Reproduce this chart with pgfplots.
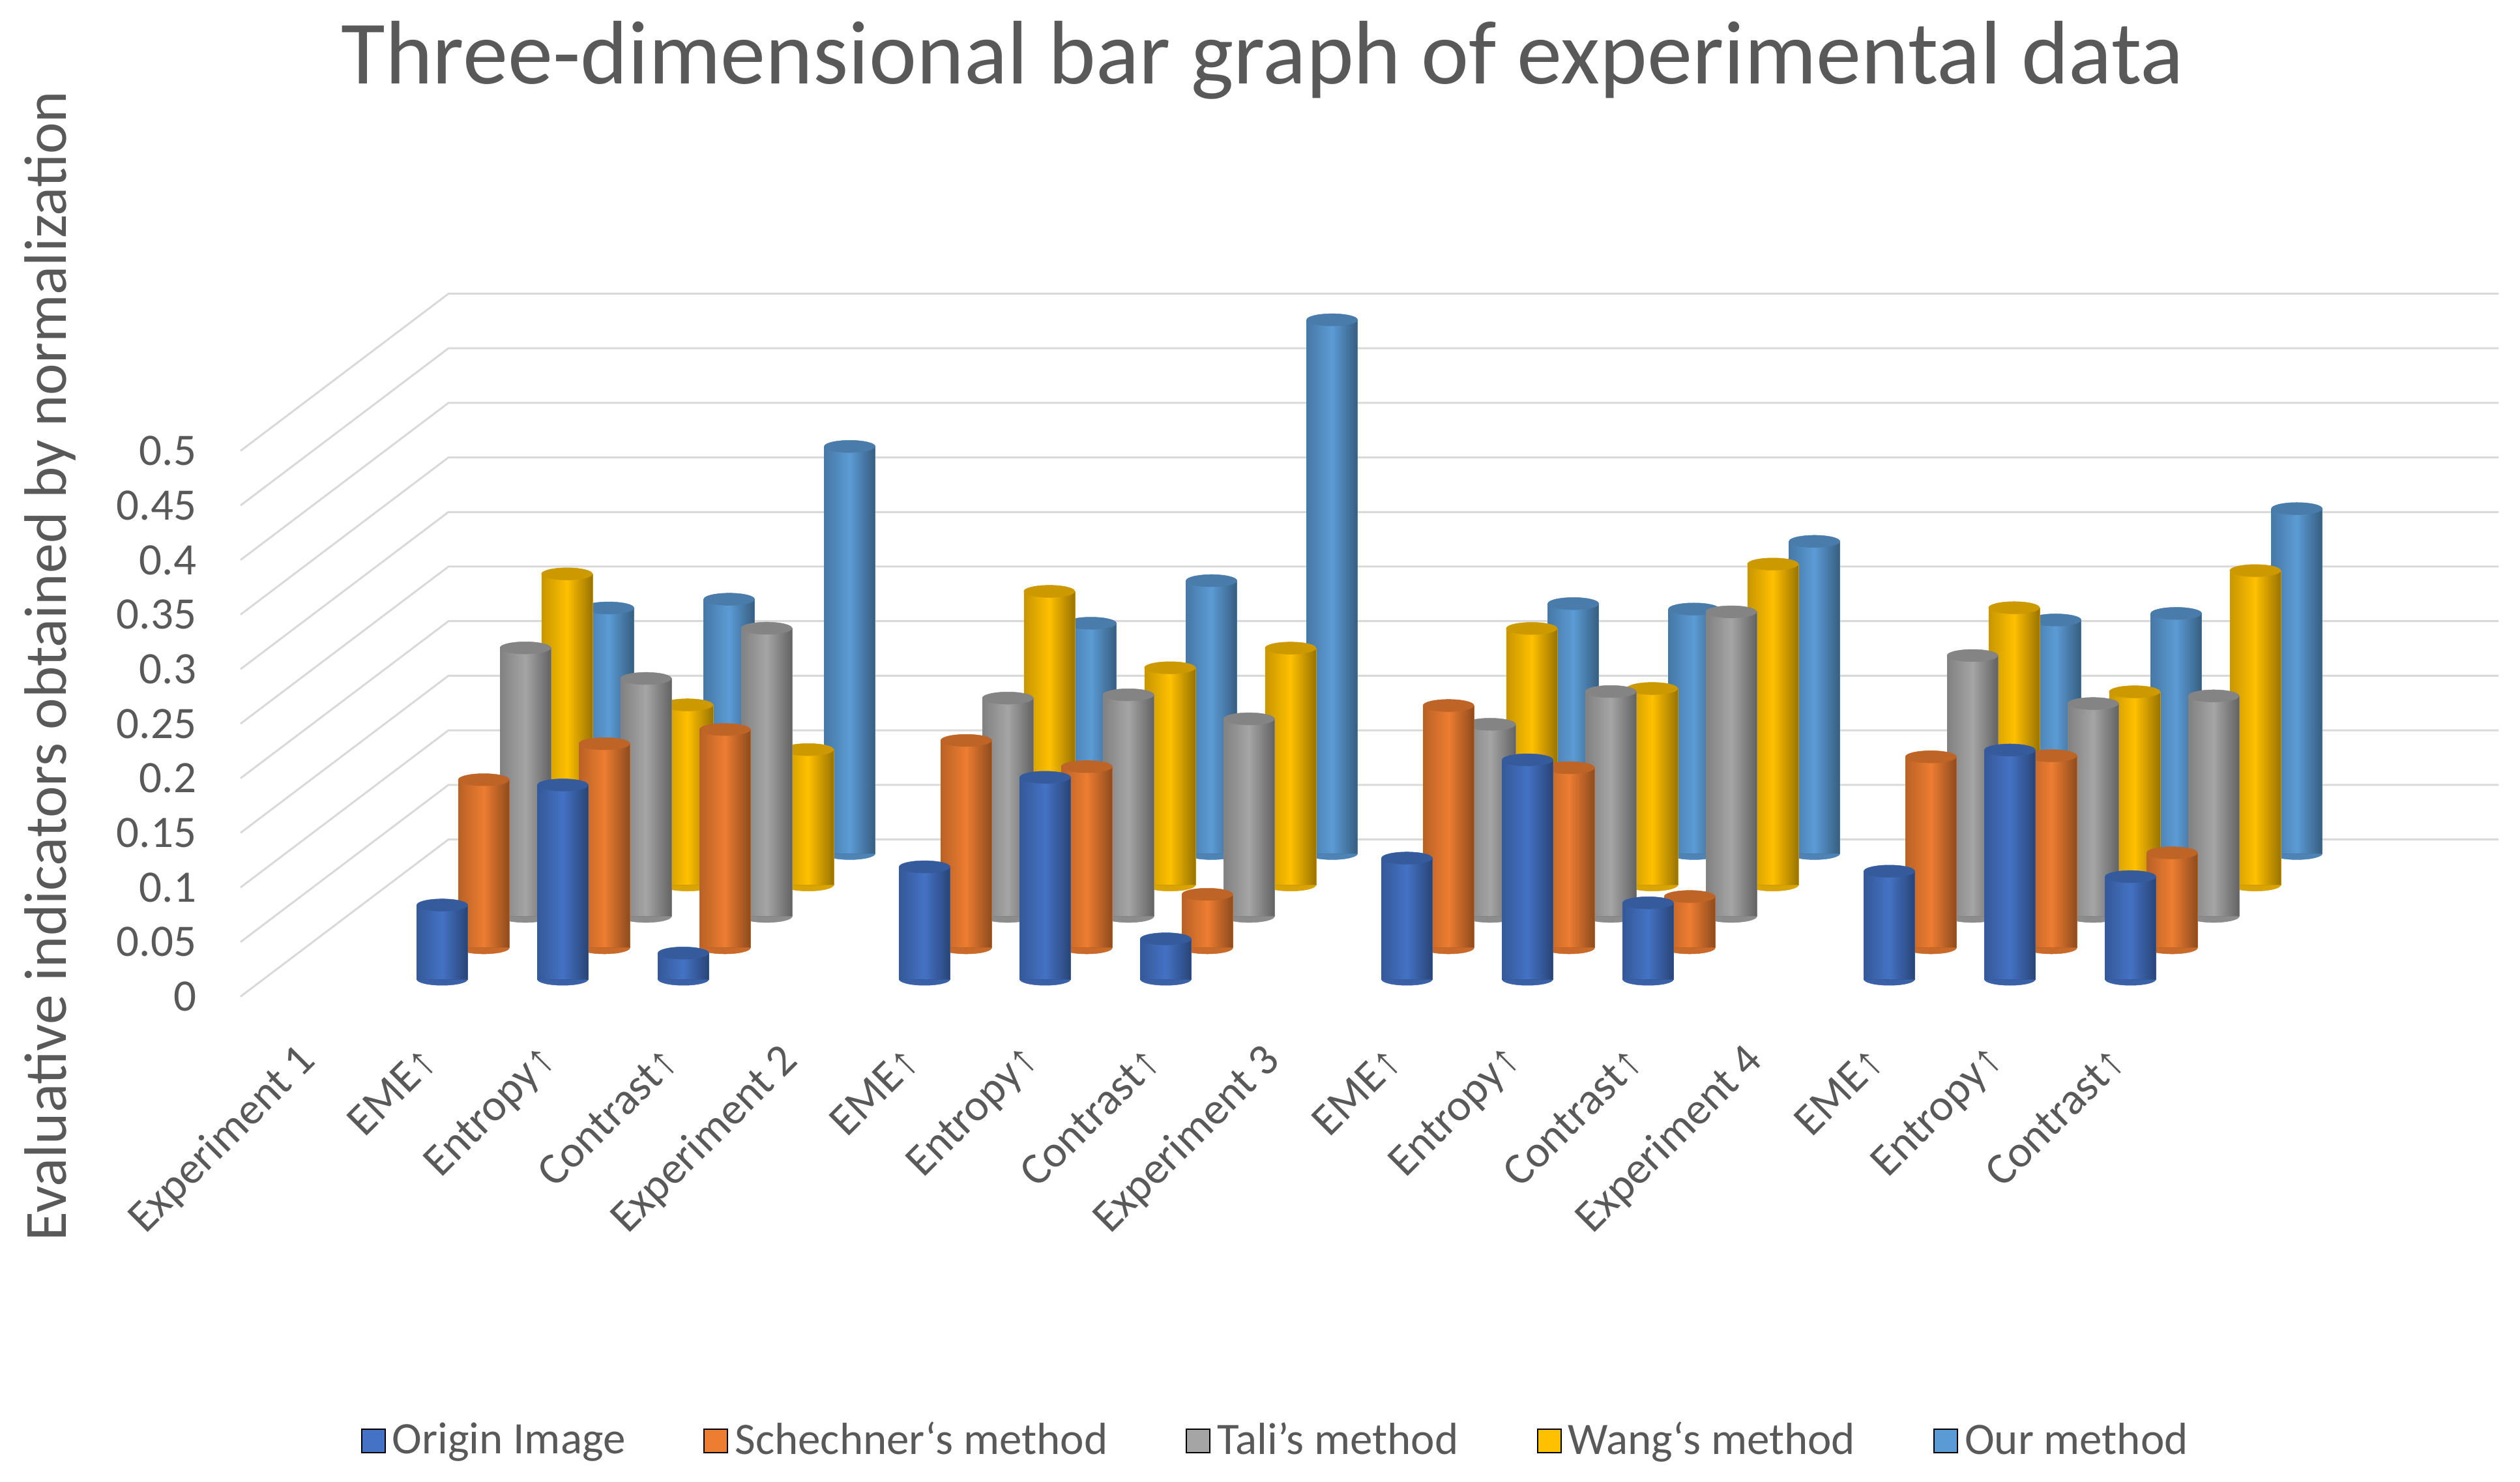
\documentclass[border=0pt]{standalone}
\usepackage{pgfplots}
\pgfplotsset{compat=1.18}
\usepackage{pgfplotstable}
\usepackage{fontspec}
\setmainfont{Carlito}
\newfontfamily\arrowfont{Liberation Sans}
\newcommand\up{{\arrowfont ↑}}
\definecolor{cO}{HTML}{4472C4}
\definecolor{cS}{HTML}{ED7D31}
\definecolor{cT}{HTML}{A5A5A5}
\definecolor{cW}{HTML}{FFC000}
\definecolor{cU}{HTML}{5B9BD5}
\definecolor{txt}{HTML}{595959}
\definecolor{grd}{HTML}{D9D9D9}

\pgfplotstableread{
x origin schechner tali wang our
1 0.068 0.154 0.246 0.285 0.225
2 0.178 0.187 0.218 0.165 0.233
3 0.024 0.200 0.264 0.124 0.373
5 0.103 0.190 0.200 0.269 0.211
6 0.185 0.166 0.203 0.199 0.250
7 0.037 0.049 0.181 0.217 0.489
9 0.111 0.222 0.176 0.235 0.229
10 0.201 0.165 0.206 0.180 0.224
11 0.070 0.047 0.279 0.294 0.286
13 0.099 0.175 0.239 0.254 0.214
14 0.210 0.176 0.195 0.177 0.220
15 0.094 0.087 0.202 0.288 0.316
}\datatable

\pgfplotsset{
  base/.style={
    width=629pt, height=167.4pt, scale only axis,
    xmin=-0.5, xmax=16.5, ymin=0, ymax=0.5,
    clip=false, anchor=south west,
  },
}

% one row of cylinders (one series); y unit = 167.4pt/0.5 = 334.8pt
\newcommand{\rowaxis}[3]{%
\begin{axis}[base, hide axis,
  at={({73.8pt+12.76pt*(#1+0.5)},{149.4pt+9.64pt*(#1+0.5)})}]
 \addplot[scatter, only marks, mark=*, mark size=7.8pt,
   mark options={yscale=0.24, draw=#3!80!black, fill=#3!80!black, line width=0.1pt},
   visualization depends on={\thisrow{#2} \as \val},
   scatter/@pre marker code/.code={%
     \fill[#3!85!black] (0pt,{-\val*334.8pt}) ellipse [x radius=7.8pt, y radius=1.87pt];
     \shade[left color=#3!78!black, right color=#3!60!black, middle color=#3]
       (-7.8pt,{-\val*334.8pt}) rectangle (7.8pt,0pt);
   },
   scatter/@post marker code/.code={},
 ] table[x=x, y=#2] {\datatable};
\end{axis}}

\begin{document}
\begin{tikzpicture}
\path[use as bounding box] (0,0) rectangle (773.2pt,454.6pt);
\begin{axis}[base, at={(73.8pt,148.9pt)},
  axis x line*=bottom, axis y line*=left,
  axis line style={draw=none}, major tick style={draw=none},
  ytick={0,0.05,0.1,0.15,0.2,0.25,0.3,0.35,0.4,0.45,0.5},
  yticklabels={0,0.05,0.1,0.15,0.2,0.25,0.3,0.35,0.4,0.45,0.5},
  yticklabel style={anchor=east, inner sep=0pt, xshift=-13.4pt,
    font=\fontsize{13.8}{16}\selectfont, text=txt},
  xtick={0,1,2,3,4,5,6,7,8,9,10,11,12,13,14,15},
  xticklabels={Experiment 1,EME\up,Entropy\up,Contrast\up,
    Experiment 2,EME\up,Entropy\up,Contrast\up,
    Experiment 3,EME\up,Entropy\up,Contrast\up,
    Experiment 4,EME\up,Entropy\up,Contrast\up},
  xticklabel style={xshift=2.6pt, yshift=-17.5pt, rotate=45, anchor=east,
    inner sep=0pt, font=\fontsize{13.8}{16}\selectfont, text=txt},
  ylabel={Evaluative indicators obtained by normalization},
  ylabel style={at={(axis description cs:-0.0928,0.606)}, anchor=center,
    font=\fontsize{18.4}{22}\selectfont, text=txt},
  title={Three-dimensional bar graph of experimental data},
  title style={at={(axis description cs:0.4986,1.637)}, anchor=base,
    font=\fontsize{27.7}{32}\selectfont, text=txt},
  legend style={at={(axis description cs:0.506,-0.814)}, anchor=center,
    draw=none, fill=none, legend columns=5,
    font=\fontsize{13.8}{16}\selectfont, text=txt,
    /tikz/every odd column/.append style={column sep=0pt},
    /tikz/every even column/.append style={column sep=22pt}},
  legend image code/.code={\fill[#1] (0pt,-3.6pt) rectangle (7.2pt,3.6pt);},
]
\addplot[grd, line width=0.6pt, unbounded coords=jump, forget plot] table {
x y
-0.5 0
1.2243 0.14397
18.2243 0.14397
nan nan
-0.5 0.05
1.2243 0.19397
18.2243 0.19397
nan nan
-0.5 0.1
1.2243 0.24397
18.2243 0.24397
nan nan
-0.5 0.15
1.2243 0.29397
18.2243 0.29397
nan nan
-0.5 0.2
1.2243 0.34397
18.2243 0.34397
nan nan
-0.5 0.25
1.2243 0.39397
18.2243 0.39397
nan nan
-0.5 0.3
1.2243 0.44397
18.2243 0.44397
nan nan
-0.5 0.35
1.2243 0.49397
18.2243 0.49397
nan nan
-0.5 0.4
1.2243 0.54397
18.2243 0.54397
nan nan
-0.5 0.45
1.2243 0.59397
18.2243 0.59397
nan nan
-0.5 0.5
1.2243 0.64397
18.2243 0.64397
};
\addlegendimage{fill=cO}\addlegendentry{Origin Image}
\addlegendimage{fill=cS}\addlegendentry{Schechner‘s method}
\addlegendimage{fill=cT}\addlegendentry{Tali’s method}
\addlegendimage{fill=cW}\addlegendentry{Wang‘s method}
\addlegendimage{fill=cU}\addlegendentry{Our method}
\end{axis}
\rowaxis{4}{our}{cU}
\rowaxis{3}{wang}{cW}
\rowaxis{2}{tali}{cT}
\rowaxis{1}{schechner}{cS}
\rowaxis{0}{origin}{cO}
\end{tikzpicture}
\end{document}
